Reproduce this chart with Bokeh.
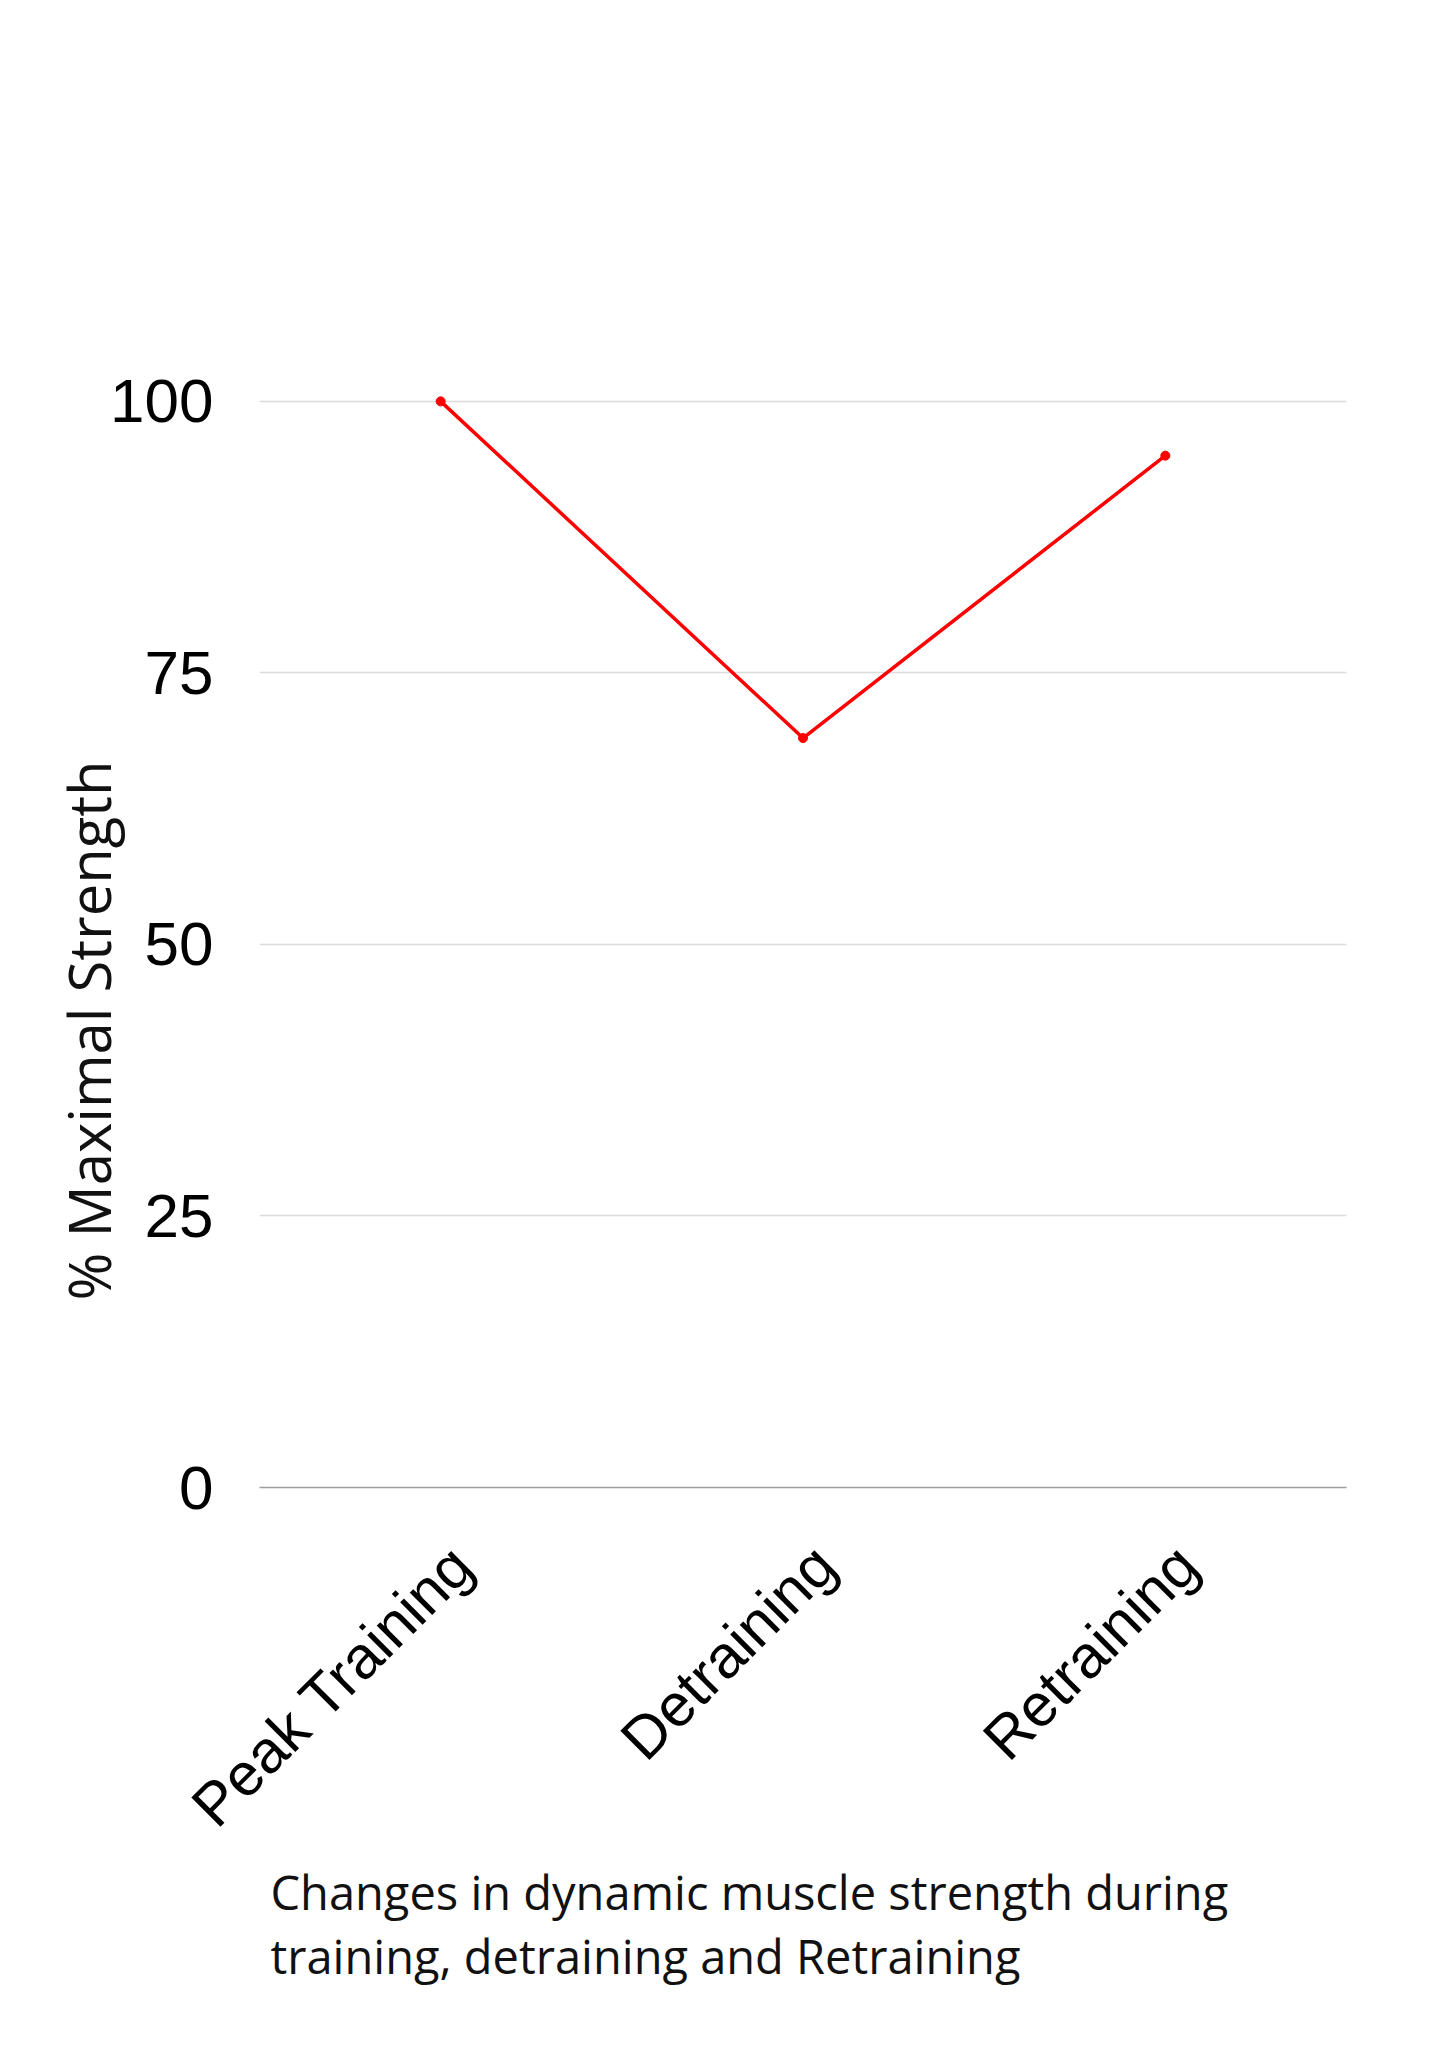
import math
from bokeh.plotting import figure
from bokeh.models import FixedTicker, Range1d, Title
from bokeh.embed import file_html
from bokeh.resources import INLINE

# ---- data ----
categories = ["Peak Training", "Detraining", "Retraining"]
strength = [100, 69, 95]
y_ticks = [0, 25, 50, 75, 100]
y_label = "% Maximal Strength"
caption_lines = ["Changes in dynamic muscle strength during",
                 "training, detraining and Retraining"]

n = len(categories)
cat_index = list(range(n))          # category slots 0..n-1

FRAME_W = 1087
p = figure(x_range=Range1d(-0.5, n - 0.5), y_range=Range1d(0, 101),
           frame_width=FRAME_W, frame_height=1097,
           min_border_left=259, min_border_right=86,
           min_border_top=390, min_border_bottom=545,
           output_backend="svg", toolbar_location=None,
           background_fill_color="white", border_fill_color="white")
p.outline_line_color = None

p.line(cat_index, strength, line_color="#ff0000", line_width=3.5)
p.scatter(cat_index, strength, size=9, color="#ff0000")

# grid
p.xgrid.grid_line_color = None
p.ygrid.ticker = FixedTicker(ticks=y_ticks)
p.ygrid.grid_line_color = "#dcdcdc"
p.ygrid.grid_line_width = 1.5

# y axis
p.yaxis.ticker = FixedTicker(ticks=y_ticks)
p.yaxis.axis_line_color = None
p.yaxis.major_tick_line_color = None
p.yaxis.minor_tick_line_color = None
p.yaxis.major_tick_out = 0
p.yaxis.major_label_standoff = 46
p.yaxis.major_label_text_font = "Liberation Sans"
p.yaxis.major_label_text_font_size = "62px"
p.yaxis.major_label_text_color = "#000000"

# x axis: category names; labels nudged so their top edge meets the slot centre
nudge = 22 / (FRAME_W / n)
label_pos = [i + nudge for i in cat_index]
xaxis = p.xaxis[0]
xaxis.ticker = FixedTicker(ticks=label_pos)
xaxis.major_label_overrides = {pos: c for pos, c in zip(label_pos, categories)}
xaxis.axis_line_color = "#9e9e9e"
xaxis.axis_line_width = 1.5
xaxis.major_tick_line_color = None
xaxis.minor_tick_line_color = None
xaxis.major_tick_out = 0
xaxis.major_tick_in = 0
xaxis.major_label_orientation = math.pi / 4
xaxis.major_label_standoff = 68
xaxis.major_label_text_font = "Liberation Sans"
xaxis.major_label_text_font_size = "60px"
xaxis.major_label_text_color = "#000000"

# y axis title
p.add_layout(Title(text=y_label, align="left", offset=187, standoff=-40,
                   text_font="Open Sans", text_font_size="58px",
                   text_font_style="normal", text_color="#111111"), "left")

# caption
for i, line in enumerate(caption_lines):
    p.add_layout(Title(text=line, align="left", offset=11,
                       standoff=-18 if i == 0 else 14,
                       text_font="Open Sans", text_font_size="47px",
                       text_font_style="normal", text_color="#111111"), "below")

open("out.html", "w").write(file_html(p, INLINE))
